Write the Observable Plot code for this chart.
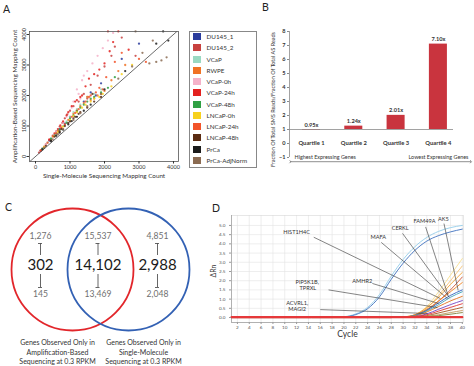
<!DOCTYPE html>
<html><head><meta charset="utf-8">
<script src="https://cdn.jsdelivr.net/npm/d3@7"></script>
<script src="https://cdn.jsdelivr.net/npm/@observablehq/plot@0.6"></script>
<style>
html,body{margin:0;padding:0;background:#fff;}
#root{position:relative;width:474px;height:366px;overflow:hidden;font-family:Lato,"Open Sans",sans-serif;}
.panel{position:absolute;}
.plabel{position:absolute;font-size:10.5px;color:#222;line-height:1;}
</style></head><body><div id="root"></div>
<script>
// ---------- Panel A data ----------
const seriesNames = ["DU145_1","DU145_2","VCaP","RWPE","VCaP-0h","VCaP-24h","VCaP-48h","LNCaP-0h","LNCaP-24h","LNCaP-48h","PrCa","PrCa-AdjNorm"];
const seriesColors = ["#2b3c9c","#c8413f","#9ad9c2","#f07224","#f5b2c9","#e3211f","#2fa043","#f7d11e","#f2542a","#5b2c12","#1b1b1b","#8b6b52"];
const du145_1 = [[150,180],[400,520],[700,900],[1000,1300],[1400,1800],[1600,2100],[1900,2400],[2500,3200],[3000,3700],[1200,1500],[1750,2000],[550,700],[850,1080]];
const du145_2 = [[100,130],[300,400],[500,680],[600,820],[700,980],[850,1250],[1000,1500],[1100,1650],[1250,1800],[1400,2050],[1600,2350],[1800,2650],[2000,2950],[2200,3300],[2300,3600],[2500,3900],[2100,4100],[2900,3300],[1500,1900],[200,260],[400,540],[780,1100],[920,1380]];
const vcap = [[200,260],[450,600],[650,850],[900,1150],[1100,1450],[1300,1700],[1500,1950],[1700,2050],[1900,2200],[1200,1550],[800,1000],[350,450],[1000,1300]];
const rwpe = [[250,320],[500,650],[750,950],[950,1200],[1200,1500],[1400,1750],[1600,1850],[1800,2000],[2000,2150],[2200,2500],[2400,2800],[2600,3000],[1500,1950],[1700,1900],[1900,2050],[650,840],[1100,1400],[1300,1650]];
const vcap0h = [[300,400],[600,800],[900,1300],[1000,1250],[1100,1800],[1200,2200],[1300,1900],[1350,2500],[1500,2800],[1650,3050],[1800,3300],[1950,3550],[2100,3800],[2250,4050],[1400,2650],[1250,2050],[800,1100],[1050,1600]];
const vcap24h = [[150,200],[400,560],[650,900],[800,1150],[950,1450],[1050,1650],[1200,1850],[1350,2000],[1450,2300],[1550,2550],[1700,2700],[1850,2850],[2000,3050],[2150,3450],[2250,3750],[2400,4100],[2700,3500],[900,1350],[1150,1800],[1300,1950],[550,760],[720,1020]];
const vcap48h = [[200,250],[450,580],[700,880],[900,1100],[1100,1350],[1300,1600],[1500,1800],[1700,1950],[1900,2100],[2100,2250],[2300,2600],[1400,1700],[1600,1900],[600,750],[1000,1250],[1200,1480]];
const lncap0h = [[250,300],[550,680],[800,980],[1000,1200],[1200,1450],[1450,1700],[1700,1900],[1950,2050],[2200,2300],[2500,2700],[2800,3000],[1600,1800],[1850,1950],[650,800],[1100,1330],[1350,1600]];
const lncap24h = [[350,450],[600,760],[850,1050],[1050,1300],[1250,1550],[1450,1800],[1600,2000],[1750,2100],[1850,2250],[2050,2600],[2300,3100],[2500,3400],[3000,3200],[3200,3100],[1550,1950],[1950,2200],[150,190],[750,930],[1150,1430]];
const lncap48h = [[300,350],[550,650],[700,820],[850,1000],[1000,1150],[1150,1300],[1300,1450],[1500,1600],[1650,2050],[1700,1800],[1900,1950],[750,900],[1100,1250],[450,530],[950,1100],[1250,1400]];
const prca = [[200,230],[450,500],[700,780],[950,1050],[1200,1300],[1400,1500],[1600,1700],[2000,2200],[2600,2800],[3500,3700],[3850,3800],[3700,4100],[800,880],[600,680],[1050,1160]];
const prcaAdjNorm = [[250,280],[500,560],[800,900],[1100,1200],[1500,1650],[1900,2050],[2400,2550],[2800,2950],[3100,3400],[3300,3050],[3500,3100],[3650,3150],[3800,3250],[3400,3800],[2900,4100],[650,730],[1300,1420]];
const seriesPoints = [du145_1,du145_2,vcap,rwpe,vcap0h,vcap24h,vcap48h,lncap0h,lncap24h,lncap48h,prca,prcaAdjNorm];
const aTicks = [0,1000,2000,3000,4000];
const aXLabel = "Single-Molecule Sequencing Mapping Count";
const aYLabel = "Amplification-Based Sequencing Mapping Count";

// ---------- Panel B data ----------
const quartiles = ["Quartile 1","Quartile 2","Quartile 3","Quartile 4"];
const ratios = [0.95,1.24,2.01,7.10];
const ratioLabels = ["0.95x","1.24x","2.01x","7.10x"];
const bTicks = [-1,0,1,2,3,4,5,6,7,8];
const bYLabel = "Fraction Of Total SMS Reads/Fraction Of Total AS Reads";
const bEndLabels = ["Highest Expressing Genes","Lowest Expressing Genes"];

// ---------- Panel C data ----------
const vennOnlyAmp = [1276,302,145];
const vennBoth = [15537,14102,13469];
const vennOnlySms = [4851,2988,2048];
const vennCaptions = ["Genes Observed Only in\nAmplification-Based\nSequencing at 0.3 RPKM","Genes Observed Only in\nSingle-Molecule\nSequencing at 0.3 RPKM"];

// ---------- Panel D data ----------
const cyclesEarly = [1,18,20,22,24,26,28,30,32,34,36,38,40];
const histLight = [0,0,0.04,0.2,0.55,1.25,2.25,3.15,3.85,4.35,4.68,4.88,5.0];
const histDark  = [0,0,0.03,0.16,0.48,1.12,2.08,2.95,3.65,4.15,4.45,4.65,4.8];
const cyclesLate = [1,28,30,32,34,36,38,40];
const lateNames = ["c1","c2","c3","c4","c5","c6","c7","c8","c9","c10","c11","c12","c13"];
const lateColors = ["#f7df8e","#f6c274","#f0a132","#cf5532","#f28322","#3264c2","#3fa2b5","#e2701f","#7444c4","#e23434","#a5531f","#c4975a","#80803c"];
const lateValues = [
  [0,0,0.02,0.15,0.6,1.4,2.3,3.2],
  [0,0,0.02,0.12,0.5,1.2,2.0,2.8],
  [0,0,0.03,0.15,0.55,1.1,1.8,2.45],
  [0,0,0.02,0.1,0.4,0.9,1.5,2.2],
  [0,0,0.03,0.15,0.45,0.9,1.4,1.9],
  [0,0,0.02,0.12,0.4,0.8,1.2,1.5],
  [0,0,0.02,0.1,0.35,0.7,1.1,1.4],
  [0,0,0.02,0.08,0.3,0.6,0.9,1.15],
  [0,0,0.01,0.05,0.2,0.45,0.7,0.92],
  [0,0,0.01,0.05,0.15,0.35,0.55,0.75],
  [0,0,0.01,0.03,0.1,0.25,0.4,0.55],
  [0,0,0.01,0.02,0.07,0.15,0.27,0.38],
  [0,0,0,0.02,0.05,0.1,0.18,0.27]
];
const flatCycles = [1,40];
const flatValues = [0.02,0.02];
const dXTicks = [2,4,6,8,10,12,14,16,18,20,22,24,26,28,30,32,34,36,38,40];
const dYTicks = [0,0.5,1,1.5,2,2.5,3,3.5,4,4.5,5];
const geneLabels = ["HIST1H4C","MAFA","CERKL","FAM49A","AK5","PIP5K1B,","TPRXL","AMHR2","ACVRL1,","MAGI2"];

// ---------- build ----------
const FONT = "Lato, 'Open Sans', sans-serif";
const root = document.getElementById("root");
function place(node, left, top){ node.classList.add("panel"); node.style.left = left+"px"; node.style.top = top+"px"; root.appendChild(node); }
function letter(t, left, top){ const d=document.createElement("div"); d.className="plabel"; d.textContent=t; d.style.left=left+"px"; d.style.top=top+"px"; root.appendChild(d); }

// Panel A
const scatter = [];
seriesNames.forEach((name,i)=> seriesPoints[i].forEach(([x,y])=>scatter.push({name,x,y})));
const aX = [-174,4145], aY = [-164,4098];
const idLo = Math.max(aX[0],aY[0]), idHi = Math.min(aX[1],aY[1]);
const plotA = Plot.plot({
  width:185, height:185, marginLeft:29, marginRight:7, marginTop:31, marginBottom:24,
  style:{fontFamily:FONT, fontSize:"5.5px", color:"#333", background:"transparent", overflow:"visible"},
  x:{domain:aX}, y:{domain:aY},
  color:{domain:seriesNames, range:seriesColors},
  marks:[
    Plot.dot(scatter,{x:"x",y:"y",fill:"name",r:1.15,stroke:null,fillOpacity:0.85}),
    Plot.link([[idLo,idHi]],{x1:d=>d[0],y1:d=>d[0],x2:d=>d[1],y2:d=>d[1],stroke:"#444",strokeWidth:0.8}),
    Plot.frame({stroke:"#555",strokeWidth:0.8}),
    Plot.axisX({ticks:aTicks,tickSize:2.5,tickPadding:1.5,tickFormat:d3.format("d"),label:null}),
    Plot.axisY({ticks:aTicks,tickSize:2.5,tickPadding:1.5,tickFormat:d3.format("d"),tickRotate:-90,label:null}),
    Plot.text([aXLabel],{text:d=>d,frameAnchor:"bottom",textAnchor:"middle",dy:16,fontSize:6.3}),
    Plot.text([aYLabel],{text:d=>d,frameAnchor:"left",textAnchor:"middle",dx:-15,rotate:-90,fontSize:6.3})
  ]
});
place(plotA,0,0);

// legend for A
const leg = document.createElement("div");
leg.style.cssText = "position:absolute;left:189px;top:31px;width:68px;height:137px;border:1px solid #888;box-sizing:border-box;background:#fff;";
seriesNames.forEach((n,i)=>{
  const row=document.createElement("div");
  row.style.cssText=`position:absolute;left:3px;top:${0.5+i*11.25}px;height:8px;display:flex;align-items:center;white-space:nowrap;font-size:6.3px;color:#333;`;
  const sw=document.createElement("span"); sw.style.cssText=`display:inline-block;width:7.5px;height:7px;background:${seriesColors[i]};margin-right:6px;`;
  row.appendChild(sw); row.appendChild(document.createTextNode(n)); leg.appendChild(row);
});
root.appendChild(leg);
letter("A",3,4);

// Panel B
const dataB = quartiles.map((q,k)=>({q,i:k+1,v:ratios[k],label:ratioLabels[k]}));
const bX = [0.48,4.357];
const halfBar = 0.213;
const arrowSpan = [0.5,4.77];
const plotB = Plot.plot({
  width:234, height:180, marginLeft:49, marginRight:21, marginTop:31, marginBottom:23,
  style:{fontFamily:FONT, fontSize:"5.6px", color:"#333", background:"transparent", overflow:"visible"},
  x:{domain:bX, axis:null}, y:{domain:[-1,8]},
  marks:[
    Plot.rectY(dataB,{x1:d=>d.i-halfBar,x2:d=>d.i+halfBar,y1:1,y2:"v",fill:"#c9343e"}),
    Plot.ruleY([1],{stroke:"#8a8a8a",strokeWidth:0.8}),
    Plot.ruleX([bX[0]],{y1:-1,y2:8,stroke:"#8a8a8a",strokeWidth:0.8}),
    Plot.axisY({ticks:bTicks,tickSize:2,tickPadding:2,label:null,fontWeight:"bold",stroke:"#8a8a8a"}),
    Plot.text(dataB,{x:"i",y:"v",text:"label",dy:-5,fontWeight:"bold",fontSize:5.6}),
    Plot.text(dataB,{x:"i",y:0,text:"q",fontWeight:"bold",fontSize:5.8}),
    Plot.link([arrowSpan],{x1:d=>d[0],x2:d=>d[1],y1:-1.3,y2:-1.3,stroke:"#444",strokeWidth:0.6,markerStart:"arrow",markerEnd:"arrow"}),
    Plot.text([bEndLabels[0]],{text:d=>d,x:0.6,y:-1,textAnchor:"start",fontSize:5.4}),
    Plot.text([bEndLabels[1]],{text:d=>d,x:4.71,y:-1,textAnchor:"end",fontSize:5.4}),
    Plot.text([bYLabel],{text:d=>d,frameAnchor:"left",textAnchor:"middle",dx:-16,dy:5,rotate:-90,fontSize:5.5})
  ]
});
place(plotB,240,0);
letter("B",262,2);

// Panel C
const fmt = d3.format(",");
const regions = [vennOnlyAmp, vennBoth, vennOnlySms];
const regionX = [40,97.5,157];
const circleX = [72,128], vennCY = 269, vennR = 61;
const rowUpper = 236, rowMain = 265, rowLower = 294;
const plotC = Plot.plot({
  width:200, height:171, margin:0,
  style:{fontFamily:FONT, color:"#222", background:"transparent", overflow:"visible"},
  x:{domain:[0,200], range:[0,200], axis:null}, y:{domain:[195,366], range:[0,171], axis:null},
  marks:[
    Plot.dot([0],{x:()=>circleX[0],y:()=>vennCY,r:vennR,stroke:"#e2262b",strokeWidth:1.8,fill:"none"}),
    Plot.dot([0],{x:()=>circleX[1],y:()=>vennCY,r:vennR,stroke:"#3361b4",strokeWidth:1.8,fill:"none"}),
    Plot.text(regions,{x:(d,i)=>regionX[i],y:()=>rowUpper,text:d=>fmt(d[0]),fontSize:8.6,fill:"#707070"}),
    Plot.text(regions,{x:(d,i)=>regionX[i],y:()=>rowMain,text:d=>fmt(d[1]),fontSize:15,fill:"#1a1a1a"}),
    Plot.text(regions,{x:(d,i)=>regionX[i],y:()=>rowLower,text:d=>fmt(d[2]),fontSize:8.6,fill:"#707070"}),
    Plot.ruleX(regions,{x:(d,i)=>regionX[i],y1:243,y2:255,stroke:"#555",strokeWidth:0.9}),
    Plot.ruleX(regions,{x:(d,i)=>regionX[i],y1:274,y2:287,stroke:"#555",strokeWidth:0.9}),
    Plot.ruleY(regions,{y:()=>243,x1:(d,i)=>regionX[i]-2,x2:(d,i)=>regionX[i]+2,stroke:"#555",strokeWidth:0.9}),
    Plot.ruleY(regions,{y:()=>287,x1:(d,i)=>regionX[i]-2,x2:(d,i)=>regionX[i]+2,stroke:"#555",strokeWidth:0.9}),
    Plot.text(vennCaptions,{x:(d,i)=>[57,143][i],y:()=>338.5,text:d=>d,lineAnchor:"top",lineHeight:1.3,fontSize:7,fill:"#333"})
  ]
});
place(plotC,0,195);
letter("C",5,202);

// Panel D
const curveNames = ["histLight","histDark",...lateNames];
const curveColors = ["#93cdea","#3e71be",...lateColors];
const curveRows = [];
cyclesEarly.forEach((c,k)=>{ curveRows.push({curve:"histLight",cycle:c,value:histLight[k]}); curveRows.push({curve:"histDark",cycle:c,value:histDark[k]}); });
lateNames.forEach((n,j)=> cyclesLate.forEach((c,k)=> curveRows.push({curve:n,cycle:c,value:lateValues[j][k]})));
const flatRows = flatCycles.map((c,k)=>({cycle:c,value:flatValues[k]}));
// annotation layout: label anchor and leader line end points (cycle, dRn)
const annotations = [
  {t:geneLabels[0],x:12.0,y:4.62,a:"start",line:[14.9,4.36,36.3,1.03]},
  {t:geneLabels[1],x:25.8,y:4.35,a:"middle",line:[26.3,4.08,37.5,1.03]},
  {t:geneLabels[2],x:29.5,y:4.84,a:"middle",line:[29.9,4.57,37.8,1.09]},
  {t:geneLabels[3],x:33.6,y:5.22,a:"middle",line:[33.8,4.92,37.6,1.2]},
  {t:geneLabels[4],x:36.8,y:5.33,a:"middle",line:[36.9,5.1,39.3,1.47]},
  {t:geneLabels[5],x:13.8,y:1.93,a:"start",line:null},
  {t:geneLabels[6],x:13.9,y:1.6,a:"start",line:[17.4,1.5,35.8,0.54]},
  {t:geneLabels[7],x:23.1,y:1.96,a:"middle",line:[24.8,1.85,36.0,0.76]},
  {t:geneLabels[8],x:12.1,y:0.76,a:"start",line:null},
  {t:geneLabels[9],x:12.1,y:0.45,a:"start",line:[16.0,0.43,34.1,0.22]}
];
const leaders = annotations.filter(d=>d.line);
const plotD = Plot.plot({
  width:274, height:145, marginLeft:31, marginRight:11, marginTop:15, marginBottom:23,
  style:{fontFamily:FONT, fontSize:"4.6px", color:"#555", background:"transparent", overflow:"visible"},
  x:{domain:[1,40.2]}, y:{domain:[-0.27,5.54]},
  color:{domain:curveNames, range:curveColors},
  marks:[
    Plot.gridX({ticks:dXTicks,stroke:"#e3e3e3",strokeOpacity:1,strokeWidth:0.6}),
    Plot.gridY({ticks:dYTicks,stroke:"#e3e3e3",strokeOpacity:1,strokeWidth:0.6}),
    Plot.frame({stroke:"#d8d8d8",strokeWidth:0.6}),
    Plot.ruleX([1],{stroke:"#9a9a9a",strokeWidth:0.7}),
    Plot.ruleY([-0.27],{stroke:"#9a9a9a",strokeWidth:0.7}),
    Plot.line(curveRows,{x:"cycle",y:"value",z:"curve",stroke:"curve",curve:"monotone-x",strokeWidth:0.9}),
    Plot.line(flatRows,{x:"cycle",y:"value",stroke:"#e6383a",strokeWidth:2.2}),
    Plot.link(leaders,{x1:d=>d.line[0],y1:d=>d.line[1],x2:d=>d.line[2],y2:d=>d.line[3],stroke:"#333",strokeWidth:0.6}),
    Plot.text(annotations,{x:"x",y:"y",text:"t",textAnchor:d=>d.a,fontSize:5.6,fill:"#333"}),
    Plot.axisX({ticks:dXTicks,tickSize:2,tickPadding:1,label:null,stroke:"#9a9a9a"}),
    Plot.axisY({ticks:dYTicks,tickSize:2,tickPadding:4,tickFormat:d3.format(".1f"),label:null,stroke:"#9a9a9a"}),
    Plot.text(["Cycle"],{text:d=>d,frameAnchor:"bottom",textAnchor:"middle",dy:14,fontSize:8.5,fill:"#333"}),
    Plot.text(["ΔRn"],{text:d=>d,frameAnchor:"left",textAnchor:"middle",dx:-18,dy:2,rotate:-90,fontSize:7,fill:"#333"})
  ]
});
place(plotD,200,200);
letter("D",212,203);
</script></body></html>
